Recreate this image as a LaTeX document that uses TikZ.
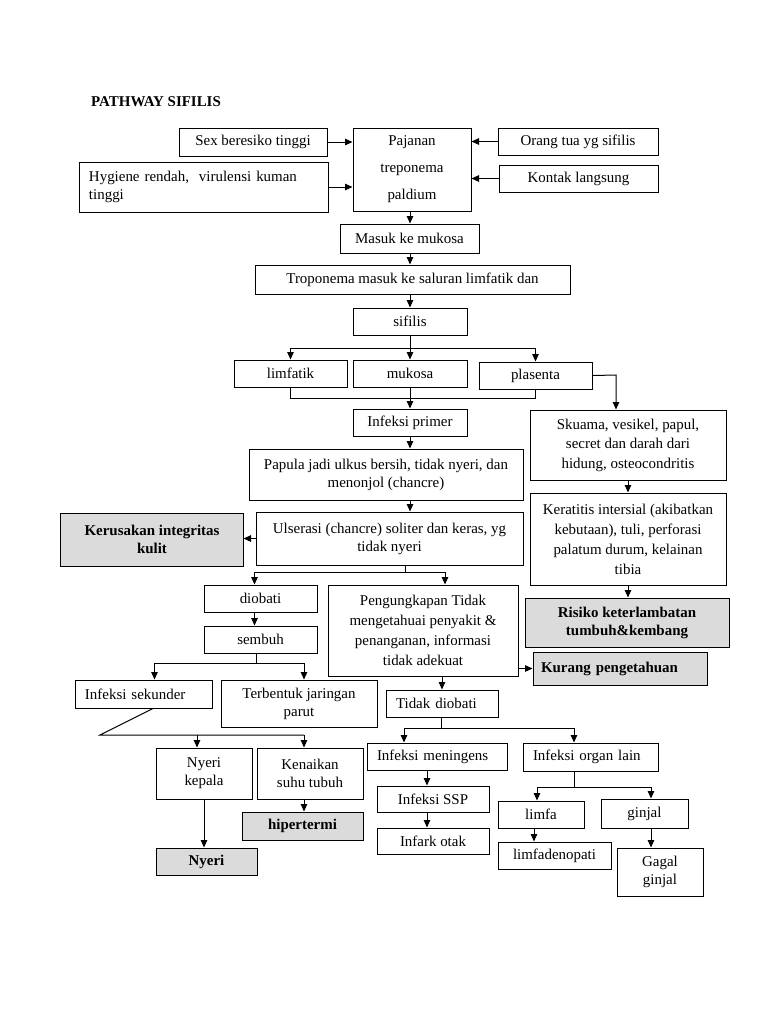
\documentclass[tikz,border=0pt]{standalone}
\usepackage{fontspec}
\setmainfont{Liberation Serif}
\usetikzlibrary{arrows.meta}
\begin{document}
\begin{tikzpicture}[x=1bp,y=-1bp,
  box/.style={draw=black, line width=1bp, inner sep=0pt, align=center, font=\fontsize{15}{18}\selectfont},
  gbox/.style={box, fill=gray!28, font=\fontsize{15}{18}\selectfont\bfseries},
  sz/.style n args={2}{minimum width=#1bp, minimum height=#2bp},
  arr/.style={-{Triangle[length=7.5bp,width=6.5bp]}, line width=1bp},
  ln/.style={line width=1bp}]
\useasboundingbox (0,0) rectangle (768,1024);
\fill[white] (0,0) rectangle (768,1024);

\node[anchor=west, inner sep=0pt, font=\fontsize{15}{18}\selectfont\bfseries] (title) at (91,102) {PATHWAY SIFILIS};

% top row
\node[box, sz={148}{28}] (sex) at (253,142) {Sex beresiko tinggi};
\node[box, sz={248}{50}, text width=230bp, align=left] (hyg) at (204,187) {Hygiene rendah,\ \ virulensi kuman\\tinggi};
\node[box, sz={118}{83}] (paj) at (412,169.5) {Pajanan\\[9bp]treponema\\[9bp]paldium};
\node[box, sz={160}{27}] (orang) at (578,141.5) {Orang tua yg sifilis};
\node[box, sz={159}{27}] (kontak) at (578.5,178.5) {Kontak langsung};
\node[box, sz={139}{29}] (masuk) at (409.5,238.5) {Masuk ke mukosa};
\node[box, sz={315}{29}] (trop) at (412.5,279.5) {Troponema masuk ke saluran limfatik dan};
\node[box, sz={114}{27}] (sifilis) at (410,321.5) {sifilis};
\node[box, sz={113}{27}] (limfatik) at (290.5,373.5) {limfatik};
\node[box, sz={114}{27}] (mukosa) at (410,373.5) {mukosa};
\node[box, sz={113}{27}] (plasenta) at (535.5,375.5) {plasenta};
\node[box, sz={114}{27}] (infprim) at (410,422.5) {Infeksi primer};
\node[box, sz={196}{70}] (skuama) at (628,445) {Skuama, vesikel, papul,\\[1.5bp]secret dan darah dari\\[1.5bp]hidung, osteocondritis};
\node[box, sz={274}{51}] (papula) at (386,474.5) {Papula jadi ulkus bersih, tidak nyeri, dan\\menonjol (chancre)};
\node[box, sz={196}{92}] (kerat) at (628,539) {Keratitis intersial (akibatkan\\[2bp]kebutaan), tuli, perforasi\\[2bp]palatum durum, kelainan\\[2bp]tibia};
\node[box, sz={267}{53}] (ulser) at (389.5,538.5) {Ulserasi (chancre) soliter dan keras, yg\\tidak nyeri};
\node[gbox, sz={182}{53}] (kerusakan) at (152,539.5) {Kerusakan integritas\\kulit};
\node[box, sz={113}{27}] (diobati) at (260.5,598.5) {diobati};
\node[box, sz={113}{27}] (sembuh) at (260.5,639.5) {sembuh};
\node[box, sz={190}{91}] (peng) at (423,630.5) {Pengungkapan Tidak\\[2bp]mengetahuai penyakit \&\\[2bp]penanganan, informasi\\[2bp]tidak adekuat};
\node[gbox, sz={204}{49}] (risiko) at (627,622.5) {Risiko keterlambatan\\tumbuh\&kembang};
\node[gbox, sz={174}{33}, text width=158bp, align=left] (kurang) at (620,668.5) {Kurang pengetahuan};
\node[box, sz={137}{28}, text width=117bp, align=left] (infsek) at (143.5,694) {Infeksi sekunder};
\node[box, sz={156}{47}] (terbentuk) at (299,703.5) {Terbentuk jaringan\\parut};
\node[box, sz={112}{27}, text width=92bp, align=left] (tidak) at (442,703.5) {Tidak diobati};
\node[box, sz={96}{51}] (nkep) at (204,773.5) {Nyeri\\kepala};
\node[box, sz={106}{51}] (kenaikan) at (310,773.5) {Kenaikan\\suhu tubuh};
\node[gbox, sz={121}{28}] (hiper) at (302.5,826) {hipertermi};
\node[gbox, sz={101}{27}] (nyeri) at (206.5,861.5) {Nyeri};
\node[box, sz={140}{27}, text width=120bp, align=left] (mening) at (437,756.5) {Infeksi meningens};
\node[box, sz={135}{28}, text width=115bp, align=left] (organ) at (590.5,757) {Infeksi organ lain};
\node[box, sz={112}{26}] (ssp) at (433,799) {Infeksi SSP};
\node[box, sz={112}{26}] (infark) at (433,841) {Infark otak};
\node[box, sz={86}{27}] (limfa) at (541,814.5) {limfa};
\node[box, sz={87}{29}] (ginjal) at (644.5,813.5) {ginjal};
\node[box, sz={113}{27}] (limfad) at (554.5,855.5) {limfadenopati};
\node[box, sz={86}{48}] (gagal) at (660,872) {Gagal\\ginjal};

% helper coordinates
\coordinate (b1) at (410,348);
\coordinate (m1) at (410,398);
\coordinate (pk) at (616,375);
\coordinate (u1) at (405,572);
\coordinate (s1) at (256,663);
\coordinate (d1) at (100,735);
\coordinate (t1) at (441,728);
\coordinate (o1) at (574,787);

% top arrows
\draw[arr] (sex.east) -- (sex.east -| paj.west);
\draw[arr] (hyg.east) -- (hyg.east -| paj.west);
\draw[arr] (orang.west) -- (orang.west -| paj.east);
\draw[arr] (kontak.west) -- (kontak.west -| paj.east);
\draw[arr] (b1 |- paj.south) -- (b1 |- masuk.north);
\draw[arr] (b1 |- masuk.south) -- (b1 |- trop.north);
\draw[arr] (sifilis.north |- trop.south) -- (sifilis.north);

% sifilis branch
\draw[ln] (sifilis.south) -- (b1);
\draw[ln] (b1 -| limfatik.north) -- (b1 -| plasenta.north);
\draw[arr] (b1 -| limfatik.north) -- (limfatik.north);
\draw[arr] (b1) -- (mukosa.north);
\draw[arr] (b1 -| plasenta.north) -- (plasenta.north);

% merge
\draw[ln] (limfatik.south) -- (limfatik.south |- m1) -- (plasenta.south |- m1) -- (plasenta.south);
\draw[arr] (mukosa.south) -- (infprim.north);
\draw[arr] (plasenta.east) -- (pk) -- (pk |- skuama.north);

\draw[arr] (infprim.south) -- (infprim.south |- papula.north);
\draw[arr] (infprim.south |- papula.south) -- (infprim.south |- ulser.north);
\draw[arr] (ulser.west) -- (ulser.west -| kerusakan.east);
\draw[arr] (skuama.south) -- (kerat.north);
\draw[arr] (kerat.south) -- (kerat.south |- risiko.north);

% ulserasi branch
\draw[ln] (u1 |- ulser.south) -- (u1);
\draw[arr] (u1) -| ([xshift=-6bp]diobati.north);
\draw[arr] (u1) -| ([xshift=22bp]peng.north);
\draw[arr] ([xshift=-6bp]diobati.south) -- ([xshift=-6bp]sembuh.north);

% sembuh branch
\draw[ln] (s1 |- sembuh.south) -- (s1);
\draw[arr] (s1) -| ([xshift=11bp]infsek.north);
\draw[arr] (s1) -| ([xshift=5bp]terbentuk.north);

\draw[arr] (kurang.west -| peng.east) -- (kurang.west);
\draw[arr] (tidak.north |- peng.south) -- (tidak.north);

% infeksi sekunder branch
\draw[ln] ([xshift=9.5bp]infsek.south) -- (d1) -- ([xshift=-6bp]kenaikan.north |- d1);
\draw[arr] ([xshift=-7bp]nkep.north |- d1) -- ([xshift=-7bp]nkep.north);
\draw[arr] ([xshift=-6bp]kenaikan.north |- d1) -- ([xshift=-6bp]kenaikan.north);
\draw[arr] (nkep.south) -- (nkep.south |- nyeri.north);
\draw[arr] ([xshift=-6bp]kenaikan.south) -- ([xshift=-6bp]kenaikan.south |- hiper.north);

% tidak diobati branch
\draw[ln] (t1 |- tidak.south) -- (t1);
\draw[arr] (t1) -| ([xshift=-33bp]mening.north);
\draw[arr] (t1) -| ([xshift=-16.5bp]organ.north);
\draw[arr] ([xshift=-6bp]ssp.north |- mening.south) -- ([xshift=-6bp]ssp.north);
\draw[arr] ([xshift=-6bp]ssp.south) -- ([xshift=-6bp]infark.north);

% organ branch
\draw[ln] (o1 |- organ.south) -- (o1);
\draw[arr] (o1) -| ([xshift=-4bp]limfa.north);
\draw[arr] (o1) -| ([xshift=6.5bp]ginjal.north);
\draw[arr] ([xshift=-7bp]limfa.south) -- ([xshift=-7bp]limfa.south |- limfad.north);
\draw[arr] ([xshift=6.5bp]ginjal.south) -- ([xshift=6.5bp]ginjal.south |- gagal.north);
\end{tikzpicture}
\end{document}
